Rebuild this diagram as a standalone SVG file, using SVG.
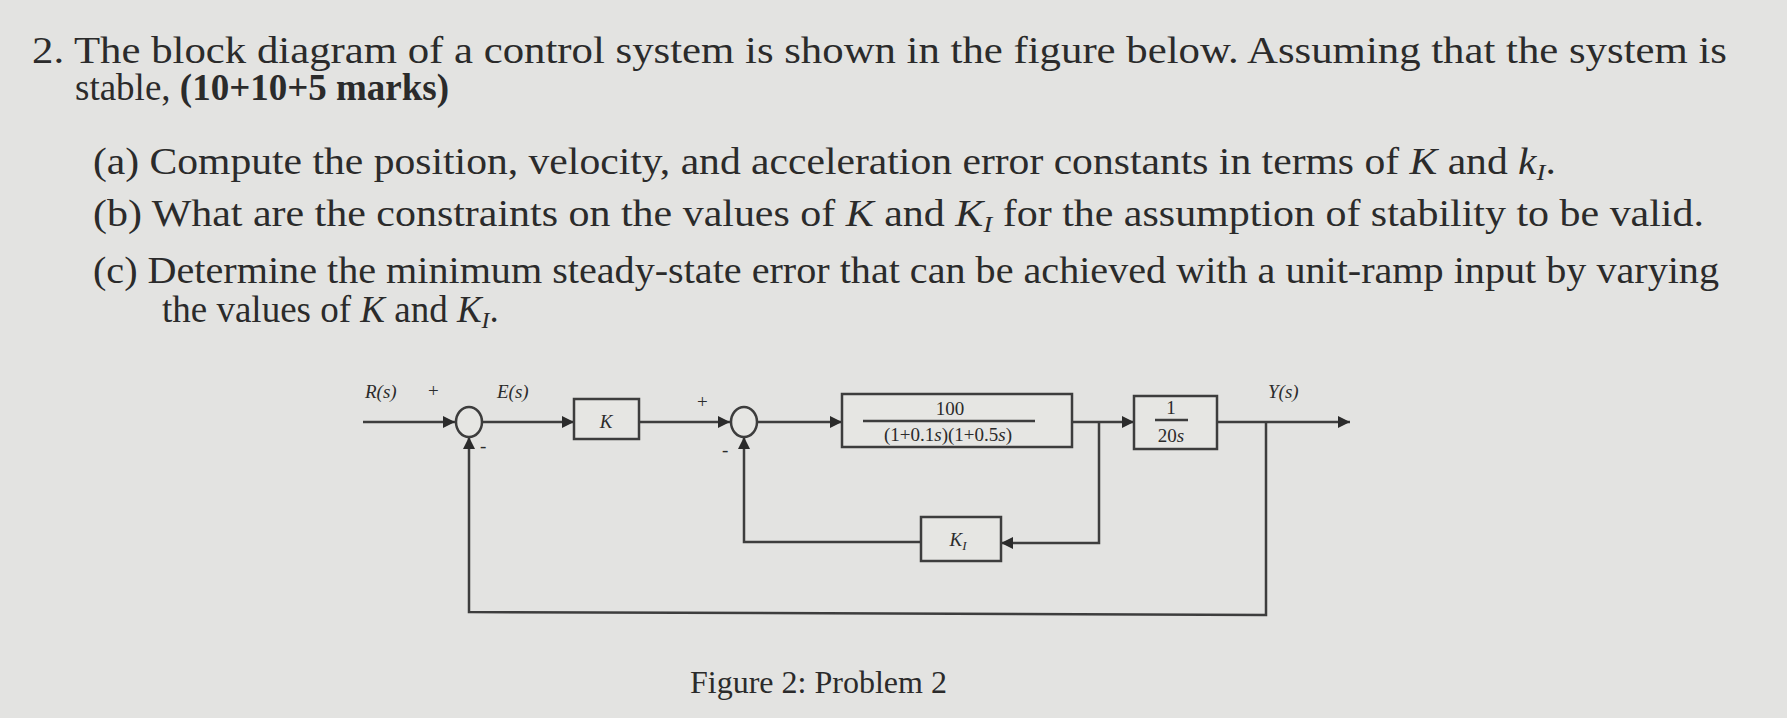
<svg xmlns="http://www.w3.org/2000/svg" width="1787" height="718" viewBox="0 0 1787 718">
<style>
text{font-family:"Liberation Serif",serif;fill:#2b2b2b}
.q{font-size:37px}
.d{font-size:19px}
.i{font-style:italic}
.ln{stroke:#3d3d3d;stroke-width:2.5;fill:none}
.bx{stroke:#3d3d3d;stroke-width:2.5;fill:#e6e6e3}
</style>
<defs>
<marker id="ab" viewBox="0 0 10 10" refX="10" refY="5" markerWidth="14" markerHeight="12" markerUnits="userSpaceOnUse" orient="auto"><path d="M0,0 L10,5 L0,10z" fill="#2b2b2b"/></marker></defs>
<rect width="1787" height="718" fill="#e3e3e1"/>
<g id="question">
<text class="q" x="32" y="63" textLength="1695" lengthAdjust="spacingAndGlyphs">2. The block diagram of a control system is shown in the figure below. Assuming that the system is</text>
<text class="q" x="75" y="100">stable, <tspan font-weight="bold">(10+10+5 marks)</tspan></text>
<text class="q" x="93" y="174" textLength="1463" lengthAdjust="spacingAndGlyphs">(a) Compute the position, velocity, and acceleration error constants in terms of <tspan class="i">K</tspan> and <tspan class="i">k</tspan><tspan class="i" font-size="24" dy="6">I</tspan><tspan dy="-6">.</tspan></text>
<text class="q" x="93" y="226" textLength="1611" lengthAdjust="spacingAndGlyphs">(b) What are the constraints on the values of <tspan class="i">K</tspan> and <tspan class="i">K</tspan><tspan class="i" font-size="24" dy="6">I</tspan><tspan dy="-6"> for the assumption of stability to be valid.</tspan></text>
<text class="q" x="93" y="283" textLength="1626" lengthAdjust="spacingAndGlyphs">(c) Determine the minimum steady-state error that can be achieved with a unit-ramp input by varying</text>
<text class="q" x="162" y="322">the values of <tspan class="i">K</tspan> and <tspan class="i">K</tspan><tspan class="i" font-size="24" dy="6">I</tspan><tspan dy="-6">.</tspan></text>
</g>
<g id="connectors">
<line class="ln" x1="363" y1="422" x2="455" y2="422" marker-end="url(#ab)"/>
<line class="ln" x1="483" y1="422" x2="574" y2="422" marker-end="url(#ab)"/>
<line class="ln" x1="639" y1="422" x2="730" y2="422" marker-end="url(#ab)"/>
<line class="ln" x1="758" y1="422" x2="842" y2="422" marker-end="url(#ab)"/>
<line class="ln" x1="1072" y1="422" x2="1134" y2="422" marker-end="url(#ab)"/>
<polyline class="ln" points="1099,422 1099,543 1001,543" marker-end="url(#ab)"/>
<polyline class="ln" points="921,542 744,542 744,437" marker-end="url(#ab)"/>
<line class="ln" x1="1217" y1="422" x2="1350" y2="422" marker-end="url(#ab)"/>
<polyline class="ln" points="1266,422 1266,615 469,612 469,437" marker-end="url(#ab)"/>
</g>
<g id="sum1"><ellipse class="bx" cx="469" cy="422" rx="13" ry="15"/></g>
<g id="sum2"><ellipse class="bx" cx="744" cy="422" rx="13" ry="15"/></g>
<g id="K"><rect class="bx" x="574" y="399" width="65" height="40"/><text class="d i" x="606" y="428" text-anchor="middle">K</text></g>
<g id="G"><rect class="bx" x="842" y="394" width="230" height="53"/>
<text class="d" x="950" y="415" text-anchor="middle">100</text>
<line class="ln" x1="863" y1="421" x2="1035" y2="421" stroke-width="1.5"/>
<text class="d" x="948" y="441" text-anchor="middle">(1+0.1<tspan class="i">s</tspan>)(1+0.5<tspan class="i">s</tspan>)</text></g>
<g id="integrator"><rect class="bx" x="1134" y="396" width="83" height="53"/>
<text class="d" x="1171" y="414" text-anchor="middle">1</text>
<line class="ln" x1="1155" y1="420" x2="1188" y2="420" stroke-width="1.5"/>
<text class="d" x="1171" y="442" text-anchor="middle">20<tspan class="i">s</tspan></text></g>
<g id="KI"><rect class="bx" x="921" y="517" width="80" height="44"/><text class="d i" x="958" y="546" text-anchor="middle">K<tspan font-size="13" dy="4">I</tspan></text></g>
<g id="labels">
<text class="d i" x="365" y="398">R(s)</text><text class="d" x="428" y="397">+</text>
<text class="d i" x="497" y="398">E(s)</text>
<text class="d" x="480" y="452">-</text>
<text class="d" x="697" y="408">+</text>
<text class="d" x="722" y="456">-</text>
<text class="d i" x="1268" y="398">Y(s)</text>
</g>
<text x="690" y="693" font-size="32">Figure 2: Problem 2</text>
</svg>
